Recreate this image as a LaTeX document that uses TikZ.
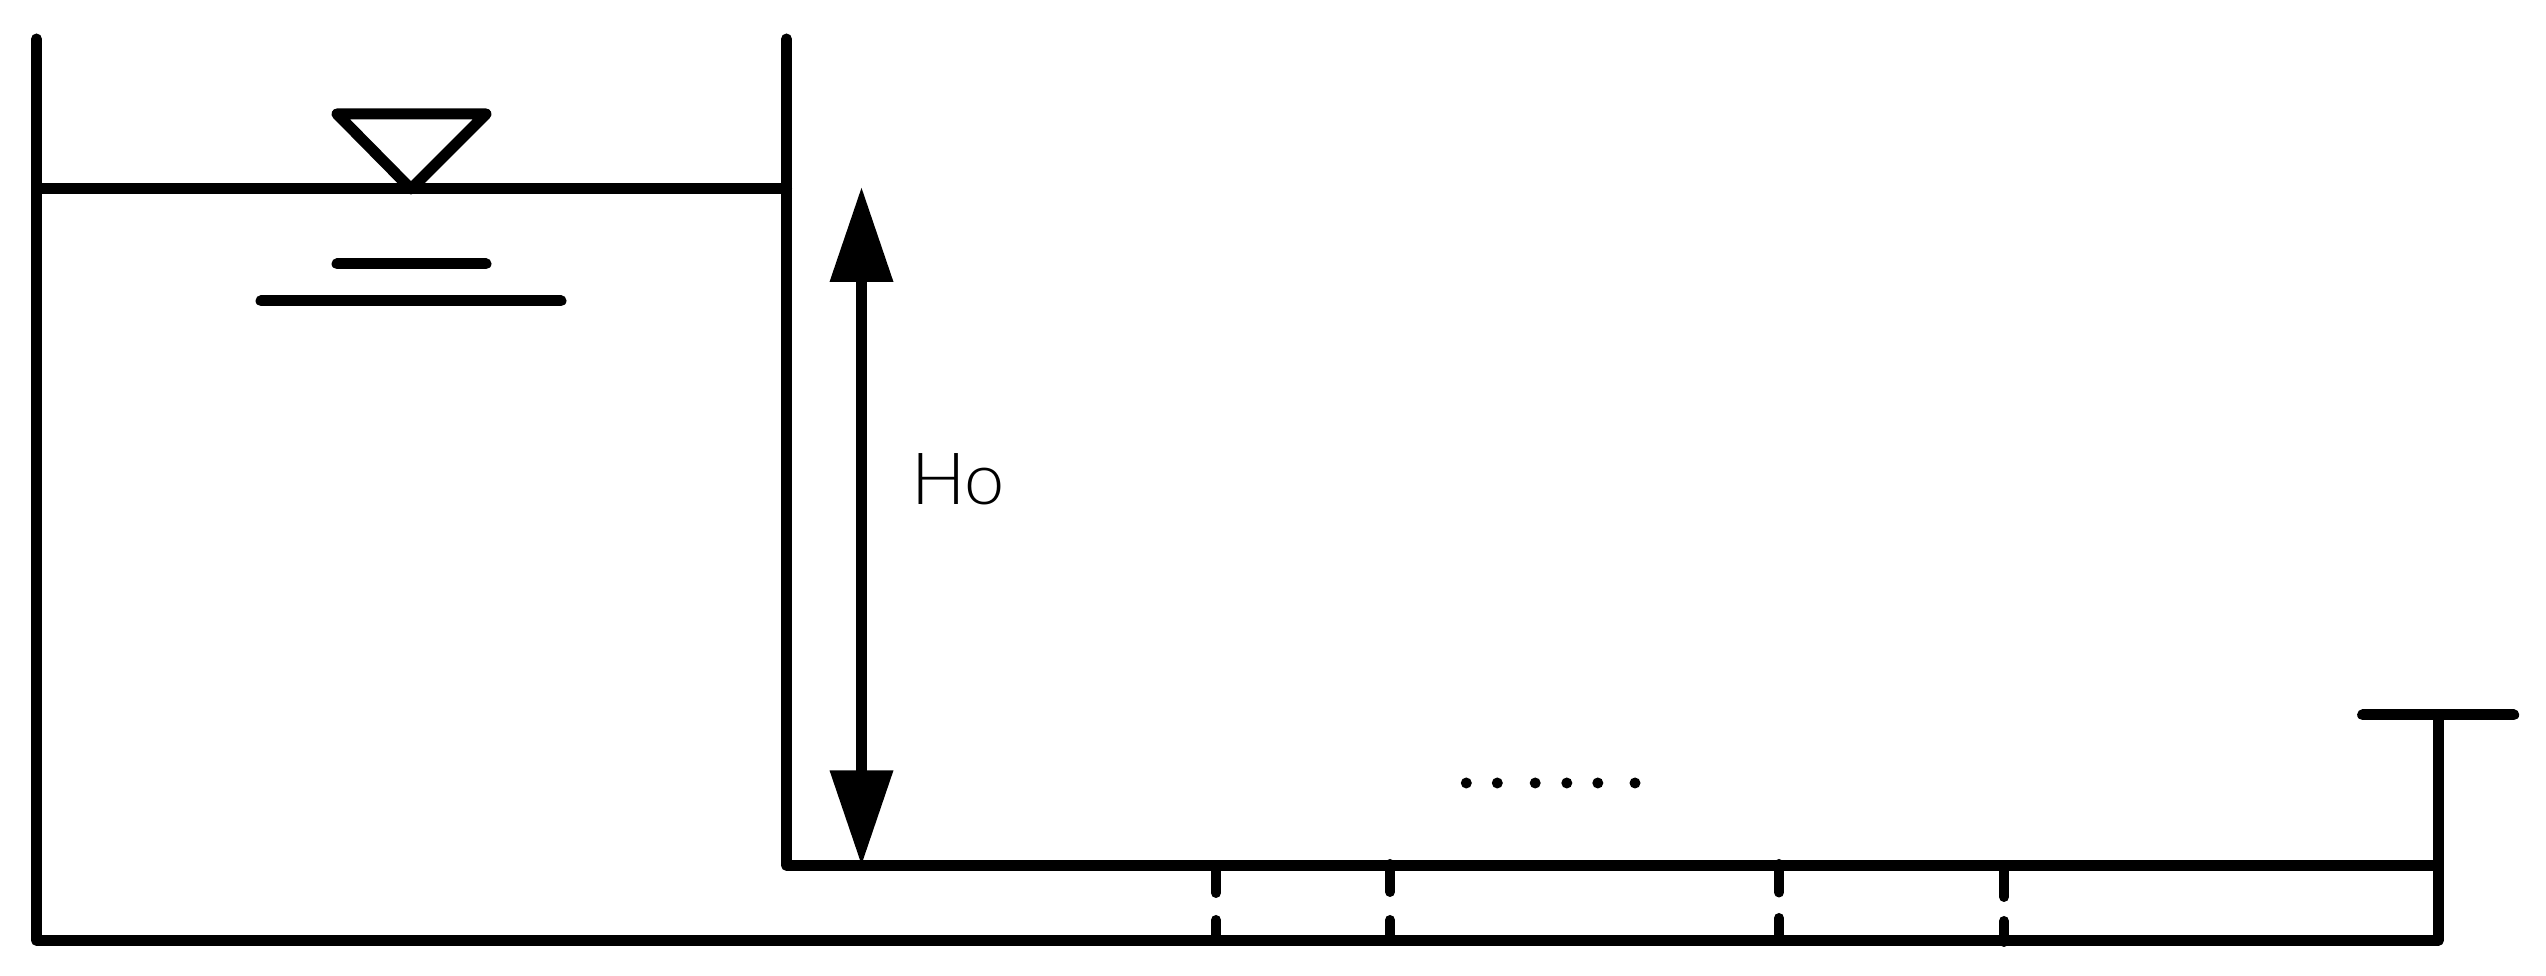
\documentclass[tikz,border=0pt]{standalone}
\usepackage{fontspec}
\usetikzlibrary{arrows.meta,positioning}
\newfontfamily\labelfont{Lato Light}

\begin{document}
\begin{tikzpicture}[x=0.02cm,y=0.02cm]
  \tikzset{
  wall/.style={line width=0.22cm,line cap=round,line join=round},
  tick/.style={line width=0.2cm,line cap=round},
  dot/.style={circle,fill=black,inner sep=0pt,minimum size=0.22cm},
  level/.style={line width=0.21cm,{Triangle[length=1.9cm,width=1.22cm]}-{Triangle[length=1.9cm,width=1.22cm]}},
  }
  \useasboundingbox (0,0) rectangle (2546,976);
  % the tank and the channel
  \coordinate (tl) at (36.5,937);
  \coordinate (tb) at (36.5,35.7);
  \coordinate (cb) at (2438.3,35.7);
  \coordinate (ct) at (2438.3,261);
  \coordinate (wt) at (786.5,937);
  \coordinate (wb) at (786.5,110.7);
  \coordinate (wr) at (2438.3,110.7);
  \draw[wall] (tl) -- (tb) -- (cb) -- (ct);
  \draw[wall] (wt) -- (wb) -- (wr);
  \coordinate (capl) at (2362.6,261);
  \coordinate (capr) at (2513.7,261);
  \draw[wall] (capl) -- (capr);

  % the water level
  \coordinate (sl) at (36.5,787);
  \coordinate (sr) at (786.5,787);
  \draw[wall] (sl) -- (sr);
  \coordinate (mark) at (411,787);
  \coordinate (markl) at (337,862);
  \coordinate (markr) at (486,862);
  \draw[wall] (mark) -- (markl) -- (markr) -- cycle;
  \coordinate (s1l) at (337,712);
  \coordinate (s1r) at (486,712);
  \coordinate (s2l) at (261,675);
  \coordinate (s2r) at (561,675);
  \draw[wall] (s1l) -- (s1r);
  \draw[wall] (s2l) -- (s2r);

  % the head
  \coordinate (ha) at (861.5,789);
  \coordinate (hb) at (861.5,110.7);
  \draw[level] (ha) -- (hb);
  \node[anchor=base,inner sep=0pt,font=\labelfont\fontsize{41}{48}\selectfont] (ho) at (958,471) {Ho};

  % the orifices, broken in the middle
  \foreach \n/\x/\a/\b/\c/\d in {1/1216/110.7/83/56/35.7,2/1390/112/84/56/35.7,3/1779/112/83.5/58/35.7,4/2004/110.7/79/55/34}{
    \coordinate (u\n) at (\x,\a);
    \coordinate (v\n) at (\x,\b);
    \coordinate (w\n) at (\x,\c);
    \coordinate (z\n) at (\x,\d);
    \draw[tick] (u\n) -- (v\n);
    \draw[tick] (w\n) -- (z\n);
  }

  % the dots
  \foreach \n/\x in {1/1466.3,2/1497.3,3/1535.2,4/1566.8,5/1597.8,6/1635}
    \node[dot] (d\n) at (\x,193) {};
\end{tikzpicture}
\end{document}
